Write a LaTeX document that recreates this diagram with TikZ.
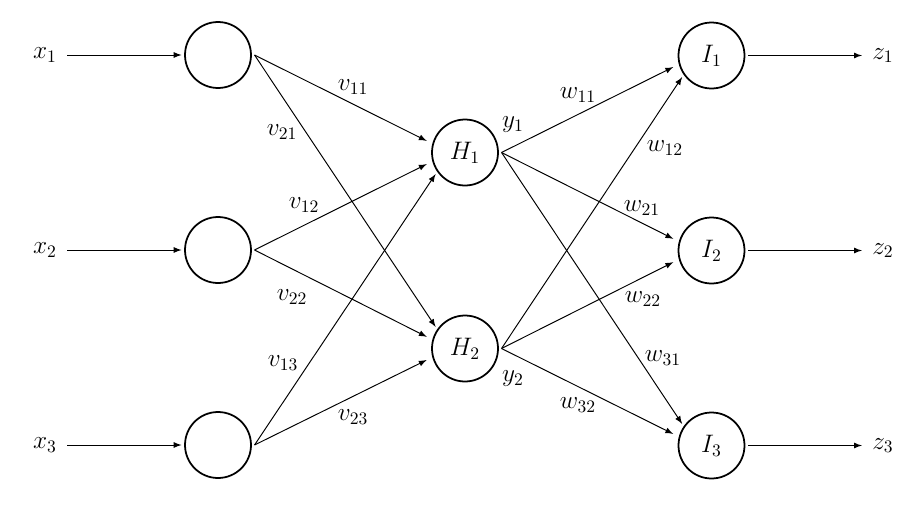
\documentclass[tikz,border=0pt]{standalone}
\begin{document}
\begin{tikzpicture}[x=0.02cm,y=-0.02cm,>=latex,line width=0.55pt]
\tikzstyle{every node}+=[font=\Large]
\tikzstyle{neuron}=[draw,line width=1pt,circle,minimum size=1.32cm,inner sep=0pt,outer sep=2pt]
\tikzstyle{io}=[inner sep=4pt,outer sep=2pt]
\tikzstyle{wire}=[->,shorten >=0.52cm]
\useasboundingbox (0,0) rectangle (923,504);
% inputs
\node [io] (x1) at (45,55) {$x_1$};
\node [io] (x2) at (45,250) {$x_2$};
\node [io] (x3) at (45,445) {$x_3$};
\node [neuron] (in1) at (218,55) {};
\node [neuron] (in2) at (218,250) {};
\node [neuron] (in3) at (218,445) {};
% hidden
\node [neuron] (H1) at (465,152.5) {$H_1$};
\node [neuron] (H2) at (465,348.5) {$H_2$};
% outputs
\node [neuron] (I1) at (711.5,55.5) {$I_1$};
\node [neuron] (I2) at (711.5,250.5) {$I_2$};
\node [neuron] (I3) at (711.5,445.5) {$I_3$};
\node [io] (z1) at (883,55.5) {$z_1$};
\node [io] (z2) at (883,250.5) {$z_2$};
\node [io] (z3) at (883,445.5) {$z_3$};
% where the wires aim
\coordinate (H1in) at ([xshift=-0.3cm]H1);
\coordinate (H2in) at ([xshift=-0.3cm]H2);
\foreach \i in {1,2,3}
  \coordinate (I\i in) at ([xshift=-0.3cm]I\i);
\foreach \i in {1,2,3} {
  \draw [->] (x\i) -- (in\i);
  \draw [->] (I\i) -- (z\i);
  \draw [wire] (in\i.east) -- (H1in);
  \draw [wire] (in\i.east) -- (H2in);
  \draw [wire] (H1.east) -- (I\i in);
  \draw [wire] (H2.east) -- (I\i in);
}
% weights
\node (v11) at (353,87) {$v_{11}$};
\node (v21) at (282,132) {$v_{21}$};
\node (v12) at (304,205) {$v_{12}$};
\node (v22) at (292,297) {$v_{22}$};
\node (v13) at (283,363) {$v_{13}$};
\node (v23) at (353,417) {$v_{23}$};
\node (y1) at (513,125) {$y_1$};
\node (y2) at (513,379) {$y_2$};
\node (w11) at (578,95) {$w_{11}$};
\node (w12) at (665,148) {$w_{12}$};
\node (w21) at (642,208) {$w_{21}$};
\node (w22) at (643,299) {$w_{22}$};
\node (w31) at (663,358) {$w_{31}$};
\node (w32) at (578,405) {$w_{32}$};
\end{tikzpicture}
\end{document}
